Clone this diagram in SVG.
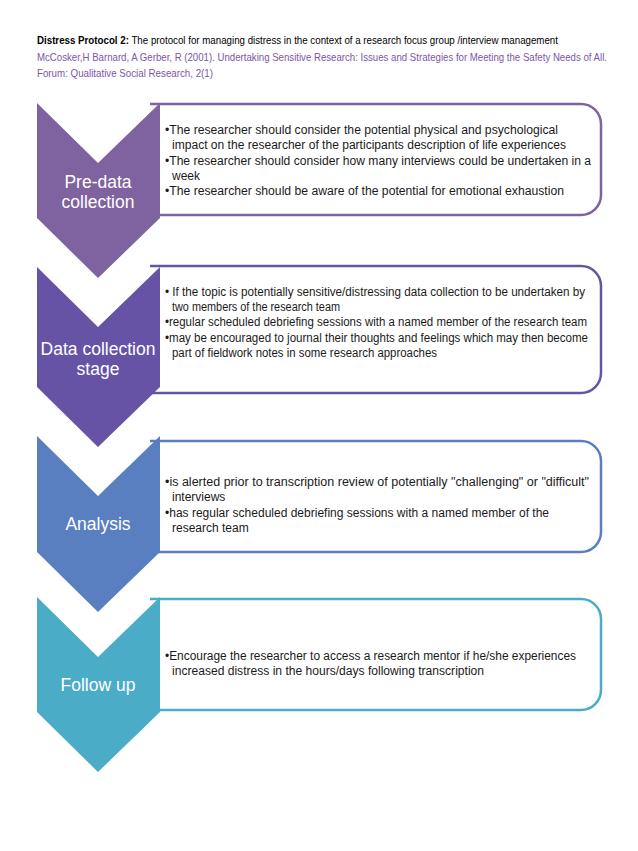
<svg xmlns="http://www.w3.org/2000/svg" width="638" height="851" viewBox="0 0 638 851">
<style>
.h{font-family:"Liberation Sans",Arial,sans-serif;font-size:10.5px}
.t{font-family:"Liberation Sans",Arial,sans-serif;font-size:12px;fill:#1a1a1a}
.l{font-family:"Liberation Sans",Arial,sans-serif;font-size:17.5px;fill:#fff;text-anchor:middle}
.b{fill:#fff;stroke-width:2.5}
</style>
<rect width="638" height="851" fill="#fff"/>
<g id="header">
<text class="h" x="37" y="44" textLength="521" lengthAdjust="spacingAndGlyphs"><tspan font-weight="bold">Distress Protocol 2:</tspan> The protocol for managing distress in the context of a research focus group /interview management</text>
<text class="h" x="37" y="61" fill="#7b56a8" textLength="570" lengthAdjust="spacingAndGlyphs">McCosker,H  Barnard, A  Gerber, R (2001). Undertaking Sensitive Research: Issues and Strategies for Meeting the Safety Needs of All.</text>
<text class="h" x="37" y="77" fill="#7b56a8" textLength="176" lengthAdjust="spacingAndGlyphs">Forum: Qualitative Social Research, 2(1)</text>
</g>
<g id="step1">
<path class="b" stroke="#7f62a0" d="M150,104 H581 A20,20 0 0 1 601,124 V195 A20,20 0 0 1 581,215 H150"/>
<path fill="#7f62a0" d="M37,103 L98,163 L160,103 V218 L98,278 L37,218 Z"/>
<text class="l" x="98" y="188">Pre-data</text>
<text class="l" x="98" y="208">collection</text>
<text class="t" x="165" y="134" textLength="393" lengthAdjust="spacingAndGlyphs">•The researcher  should  consider the potential physical and psychological</text>
<text class="t" x="172" y="149" textLength="394" lengthAdjust="spacingAndGlyphs">impact on the researcher of the participants description of life experiences</text>
<text class="t" x="165" y="165" textLength="426" lengthAdjust="spacingAndGlyphs">•The researcher should  consider how many interviews could be undertaken in a</text>
<text class="t" x="172" y="180">week</text>
<text class="t" x="165" y="195" textLength="399" lengthAdjust="spacingAndGlyphs">•The researcher should be aware of the potential for emotional exhaustion</text>
</g>
<g id="step2">
<path class="b" stroke="#6653a6" d="M150,266 H581 A20,20 0 0 1 601,286 V373 A20,20 0 0 1 581,393 H150"/>
<path fill="#6653a6" d="M37,267 L98,327 L160,267 V387 L98,447 L37,387 Z"/>
<text class="l" x="98" y="355">Data collection</text>
<text class="l" x="98" y="375">stage</text>
<text class="t" x="165" y="296" textLength="420" lengthAdjust="spacingAndGlyphs">• If the topic is potentially sensitive/distressing data collection to be undertaken by</text>
<text class="t" x="172" y="311" textLength="168" lengthAdjust="spacingAndGlyphs">two members of the research team</text>
<text class="t" x="165" y="326" textLength="422" lengthAdjust="spacingAndGlyphs">•regular scheduled debriefing sessions with a named member of the research team</text>
<text class="t" x="165" y="342" textLength="423" lengthAdjust="spacingAndGlyphs">•may be encouraged to journal their thoughts and feelings which may then become</text>
<text class="t" x="172" y="357" textLength="265" lengthAdjust="spacingAndGlyphs">part of fieldwork notes in some research approaches</text>
</g>
<g id="step3">
<path class="b" stroke="#5a7fc1" d="M150,441 H581 A20,20 0 0 1 601,461 V532 A20,20 0 0 1 581,552 H150"/>
<path fill="#5a7fc1" d="M37,436 L98,496 L160,436 V552 L98,612 L37,552 Z"/>
<text class="l" x="98" y="530">Analysis</text>
<text class="t" x="165" y="486" textLength="424" lengthAdjust="spacingAndGlyphs">•is alerted prior to transcription review of potentially "challenging" or "difficult"</text>
<text class="t" x="172" y="501">interviews</text>
<text class="t" x="165" y="517" textLength="384" lengthAdjust="spacingAndGlyphs">•has regular scheduled debriefing sessions with a named member of the</text>
<text class="t" x="172" y="532">research team</text>
</g>
<g id="step4">
<path class="b" stroke="#4aacc6" d="M150,599 H581 A20,20 0 0 1 601,619 V690 A20,20 0 0 1 581,710 H150"/>
<path fill="#4aacc6" d="M37,597 L98,657 L160,597 V712 L98,772 L37,712 Z"/>
<text class="l" x="98" y="691">Follow up</text>
<text class="t" x="165" y="660" textLength="411" lengthAdjust="spacingAndGlyphs">•Encourage the researcher to access a research mentor if he/she experiences</text>
<text class="t" x="172" y="675" textLength="312" lengthAdjust="spacingAndGlyphs">increased distress in the hours/days following transcription</text>
</g>
<g id="connectors"></g>
</svg>
